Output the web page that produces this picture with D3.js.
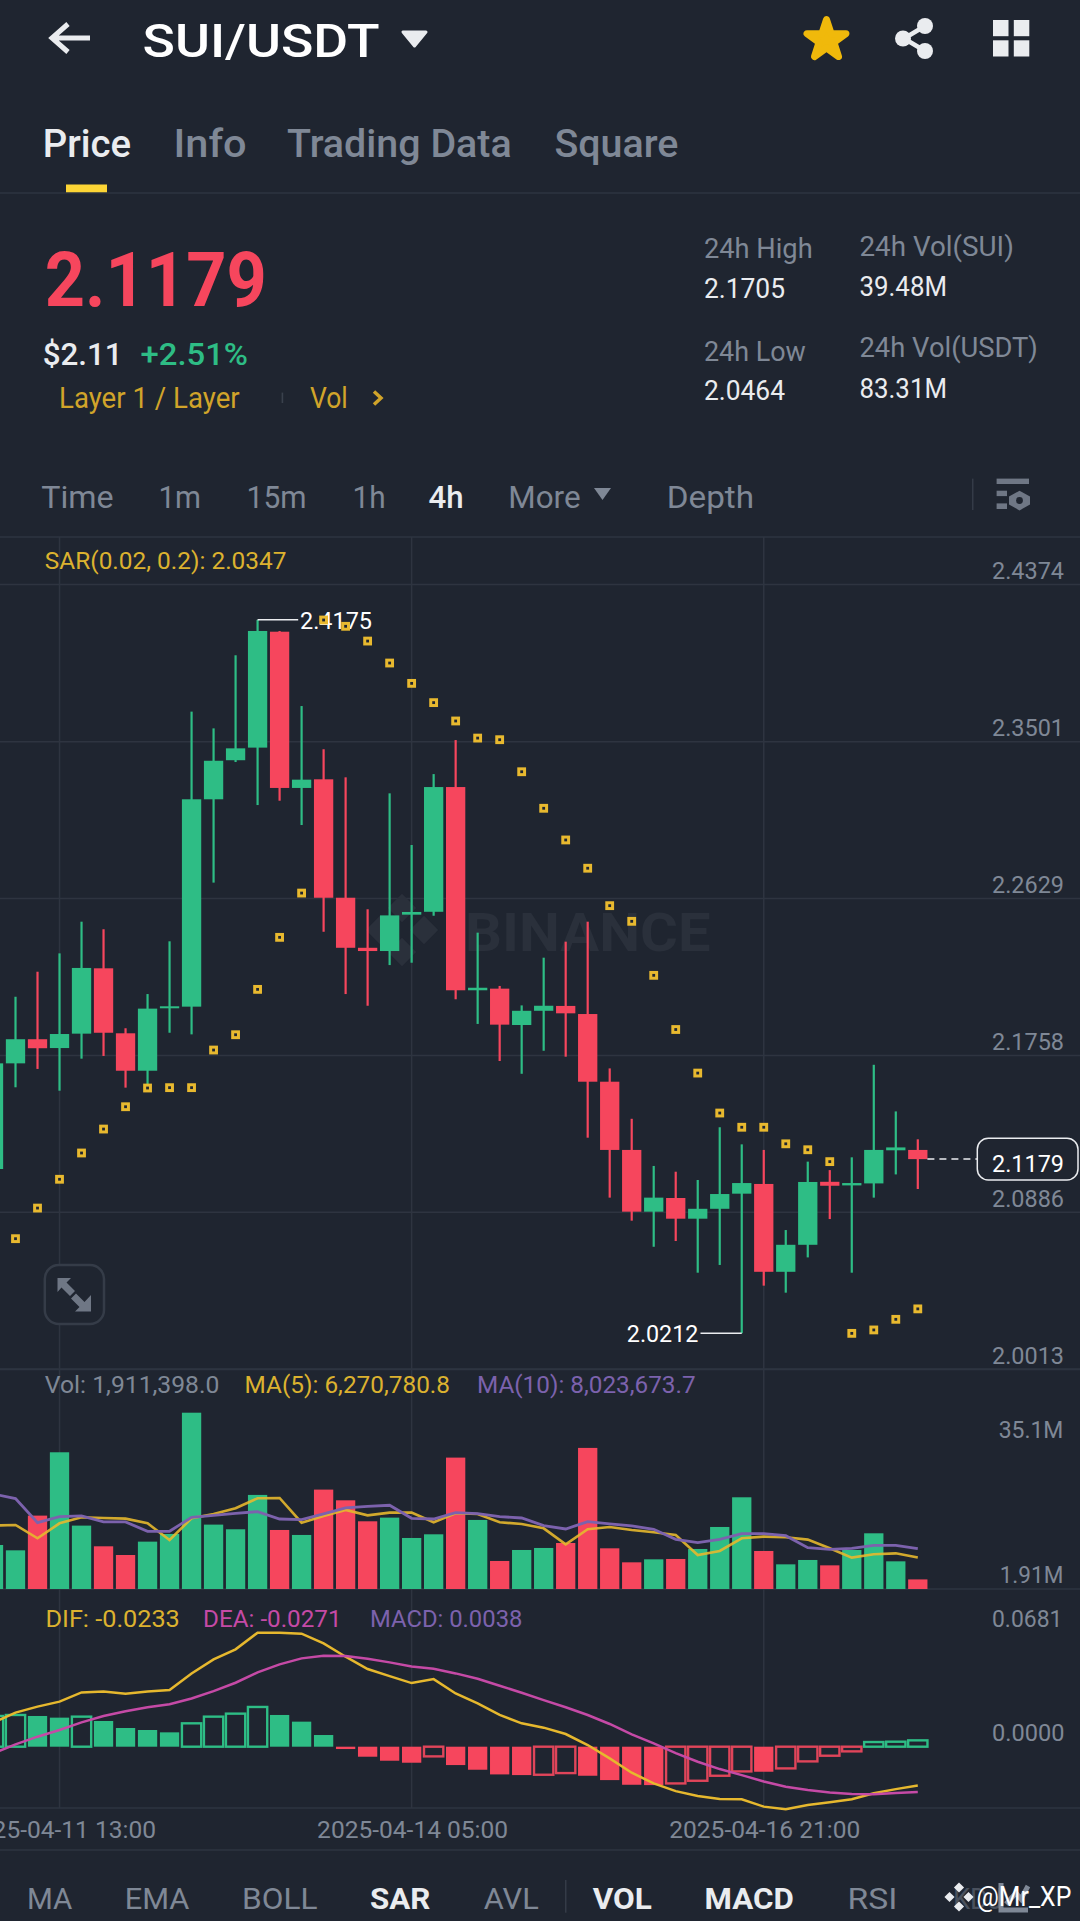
<!DOCTYPE html>
<html>
<head>
<meta charset="utf-8">
<script src="https://cdn.jsdelivr.net/npm/d3@7"></script>
<style>
  html, body { margin: 0; padding: 0; background: #1f2530; }
  svg { display: block; }
  text { font-family: Roboto, "Noto Sans", sans-serif; }
</style>
</head>
<body>
<div id="graph"></div>
<script>
// candles, 4h, oldest first
var opens = [2.1124,2.1711,2.1845,2.1796,2.1876,2.2239,2.1878,2.1670,2.2017,2.2026,2.3178,2.3395,2.3465,2.4109,2.3241,2.3289,2.2631,2.2353,2.2335,2.2537,2.2553,2.3246,2.2117,2.2126,2.1924,2.2003,2.2030,2.1985,2.1609,2.1230,2.0887,2.0963,2.0848,2.0903,2.0987,2.1041,2.0553,2.0703,2.1053,2.1033,2.1044,2.1228,2.1230];
var closes = [2.1711,2.1845,2.1795,2.1874,2.2241,2.1881,2.1670,2.2015,2.2028,2.3178,2.3392,2.3461,2.4113,2.3241,2.3287,2.2631,2.2353,2.2335,2.2533,2.2552,2.3246,2.2117,2.2131,2.1926,2.2003,2.2031,2.1989,2.1609,2.1230,2.0887,2.0965,2.0848,2.0903,2.0985,2.1046,2.0553,2.0703,2.1052,2.1031,2.1046,2.1230,2.1244,2.1179];
var highs = [2.1780,2.2081,2.2220,2.2322,2.2498,2.2456,2.1906,2.2096,2.2389,2.3665,2.3572,2.3978,2.4175,2.4113,2.3696,2.3456,2.3300,2.2567,2.3211,2.2924,2.3318,2.3507,2.2437,2.2141,2.2033,2.2298,2.2387,2.2498,2.1683,2.1403,2.1141,2.1109,2.1063,2.1356,2.1261,2.1230,2.0785,2.1165,2.1118,2.1189,2.1703,2.1444,2.1289];
var lows = [2.1050,2.1578,2.1680,2.1559,2.1737,2.1752,2.1576,2.1596,2.1881,2.1872,2.2715,2.3385,2.3146,2.3170,2.3035,2.2442,2.2096,2.2031,2.2257,2.2270,2.2531,2.2067,2.1930,2.1724,2.1653,2.1781,2.1748,2.1298,2.0965,2.0837,2.0692,2.0724,2.0548,2.0591,2.0212,2.0476,2.0437,2.0633,2.0846,2.0548,2.0965,2.1094,2.1013];
var sar = [null,2.0737,2.0907,2.1067,2.1213,2.1346,2.1470,2.1574,2.1576,2.1576,2.1785,2.1870,2.2122,2.2411,2.2657,2.4174,2.4139,2.4057,2.3935,2.3822,2.3715,2.3613,2.3518,2.3509,2.3331,2.3128,2.2952,2.2795,2.2587,2.2500,2.2200,2.1899,2.1657,2.1435,2.1356,2.1356,2.1264,2.1231,2.1165,2.0211,2.0230,2.0289,2.0347];

// volume in millions
var volumes = [8.76,7.70,14.61,27.22,12.62,8.50,6.77,9.43,10.96,35.1,12.82,11.89,18.73,11.75,10.76,19.79,17.66,13.48,14.21,10.16,10.89,26.16,13.75,5.58,7.77,8.17,9.16,28.09,8.10,5.31,5.91,5.98,7.97,12.35,18.26,7.57,4.91,5.78,4.71,7.77,11.09,5.51,1.91];
var ma5 = [12.62,12.75,10.09,13.08,14.28,14.14,14.01,13.08,9.76,14.08,14.94,16.07,18.06,18.13,13.21,14.54,15.74,14.67,15.21,15.21,13.28,15.07,14.94,13.28,12.95,12.08,8.90,11.89,12.35,11.75,11.29,10.76,6.77,7.57,10.09,10.42,10.29,9.83,8.10,6.24,6.91,7.10,6.27];
var ma10 = [18.92,17.99,13.21,14.41,14.54,13.35,13.35,11.49,11.49,14.28,14.67,15.07,15.41,13.94,13.81,14.94,16.14,16.47,16.67,14.08,13.94,15.21,15.01,14.41,14.14,12.62,11.95,13.41,12.95,12.55,11.89,9.89,9.23,9.89,11.02,11.02,10.62,8.23,7.90,8.10,8.70,8.70,8.03];

// macd pane
var dif = [0.0144,0.0204,0.0240,0.0270,0.0325,0.0331,0.0317,0.0331,0.0339,0.0439,0.0523,0.0583,0.0683,0.0683,0.0677,0.0619,0.0539,0.0465,0.0423,0.0381,0.0405,0.0319,0.0260,0.0190,0.0140,0.0114,0.0076,0.0010,-0.0070,-0.0156,-0.0220,-0.0266,-0.0295,-0.0313,-0.0315,-0.0359,-0.0375,-0.0349,-0.0333,-0.0315,-0.0279,-0.0254,-0.0233];
var dea = [-0.0040,0.0014,0.0060,0.0100,0.0146,0.0184,0.0212,0.0236,0.0254,0.0289,0.0333,0.0383,0.0445,0.0493,0.0529,0.0545,0.0543,0.0527,0.0505,0.0481,0.0467,0.0439,0.0407,0.0365,0.0323,0.0279,0.0236,0.0190,0.0136,0.0074,0.0020,-0.0038,-0.0090,-0.0134,-0.0170,-0.0208,-0.0240,-0.0260,-0.0275,-0.0283,-0.0285,-0.0277,-0.0271];
var macd = [0.0184,0.0190,0.0184,0.0174,0.0180,0.0154,0.0112,0.0100,0.0086,0.0140,0.0180,0.0198,0.0238,0.0190,0.0150,0.0070,-0.0014,-0.0060,-0.0084,-0.0096,-0.0058,-0.0110,-0.0138,-0.0166,-0.0170,-0.0168,-0.0158,-0.0174,-0.0200,-0.0228,-0.0230,-0.0220,-0.0204,-0.0174,-0.0148,-0.0150,-0.0130,-0.0088,-0.0054,-0.0028,0.0028,0.0030,0.0038];

var priceTicks = [2.4374, 2.3501, 2.2629, 2.1758, 2.0886, 2.0013];
var dateTicks = [3, 19, 35];
var dateLabels = ["2025-04-11 13:00", "2025-04-14 05:00", "2025-04-16 21:00"];

var width = 1080, height = 1921;
var bg = "#1f2530", grid = "#2e3440";
var green = "#2ebd85", red = "#f6465d", gold = "#dcb22f", purple = "#7c62ad", pink = "#c54aa6";
var grey = "#7f8896", soft = "#eaecef";
var barWidth = 19.3;

var svg = d3.select("#graph").append("svg")
  .attr("width", width)
  .attr("height", height);

var x = d3.scaleLinear().domain([0, 42]).range([-6.5, 917.8]);
var y = d3.scaleLinear().domain([2.0013, 2.4374]).range([1369, 584]);
var yVol = d3.scaleLinear().domain([0, 35.1]).range([1589, 1412.7]);
var yMacd = d3.scaleLinear().domain([0, 0.0681]).range([1746.7, 1633]);
var idx = d3.range(opens.length);

// x, baseline, string, size, colour, weight, fitted width, anchor
function label(px, py, str, size, color, weight, fit, anchor) {
  var t = svg.append("text")
    .attr("x", px).attr("y", py)
    .attr("font-size", size)
    .attr("fill", color)
    .attr("font-weight", weight || 400)
    .attr("text-anchor", anchor || "start")
    .text(str);
  if (fit) t.attr("textLength", fit).attr("lengthAdjust", "spacingAndGlyphs");
  return t;
}

function hline(py, x0, x1, color) {
  svg.append("line").attr("x1", x0 || 0).attr("x2", x1 || width).attr("y1", py).attr("y2", py)
    .attr("stroke", color || grid).attr("stroke-width", 1.5);
}

// ---- header
svg.append("path").attr("d", "M90 38H54M68 24L52 38L68 52")
  .attr("fill", "none").attr("stroke", soft).attr("stroke-width", 5);
label(142.6, 56.8, "SUI/USDT", 46, "#ffffff", 500, 237);
svg.append("path").attr("d", "M403 32H426L414.5 46Z").attr("fill", soft)
  .attr("stroke", soft).attr("stroke-width", 3).attr("stroke-linejoin", "round");
svg.append("path").attr("transform", "translate(826.5,40)")
  .attr("d", d3.symbol().type(d3.symbolStar).size(470)())
  .attr("fill", "#f0b90b").attr("stroke", "#f0b90b").attr("stroke-width", 7).attr("stroke-linejoin", "round");
svg.append("path").attr("d", "M925 26L904 38.5L925 51").attr("fill", "none").attr("stroke", soft).attr("stroke-width", 4.5);
[[925, 26], [903, 38.5], [925, 51]].forEach(function(c) {
  svg.append("circle").attr("cx", c[0]).attr("cy", c[1]).attr("r", 8).attr("fill", soft);
});
[[993, 20], [1013.8, 20], [993, 40.3], [1013.8, 40.3]].forEach(function(c) {
  svg.append("rect").attr("x", c[0]).attr("y", c[1]).attr("width", 15.5).attr("height", 16.2).attr("fill", soft);
});

label(42.7, 156.7, "Price", 38, soft, 500, 88.3);
label(173.6, 156.7, "Info", 38, grey, 500, 73);
label(287, 156.7, "Trading Data", 38, grey, 500, 224.7);
label(554.4, 156.7, "Square", 38, grey, 500, 124);
svg.append("rect").attr("x", 66).attr("y", 184.5).attr("width", 41).attr("height", 8.5).attr("fill", "#fcd535");
hline(193);

label(44.8, 305.8, "2.1179", 76, red, 700, 222);
label(42.7, 365, "$2.11", 32, soft, 500, 80);
label(140.5, 365, "+2.51%", 32, green, 500, 107.5);
label(59, 408, "Layer 1 / Layer", 29, "#d1a42a", 400, 180.7);
svg.append("rect").attr("x", 281.6).attr("y", 392.6).attr("width", 1.6).attr("height", 10.4).attr("fill", "#3a414d");
label(310, 408, "Vol", 29, "#d1a42a", 400, 37.8);
svg.append("path").attr("d", "M374 391.5L381 398L374 404.5").attr("fill", "none").attr("stroke", "#d1a42a").attr("stroke-width", 3.5);

label(703.9, 258.3, "24h High", 28, grey, 400, 108.8);
label(703.9, 297.9, "2.1705", 28, soft, 400, 81.1);
label(703.9, 360.5, "24h Low", 28, grey, 400, 101.9);
label(703.9, 400, "2.0464", 28, soft, 400, 81.1);
label(859.5, 255.5, "24h Vol(SUI)", 28, grey, 400, 154.3);
label(859.5, 295.5, "39.48M", 28, soft, 400, 87.5);
label(859.5, 357.4, "24h Vol(USDT)", 28, grey, 400, 178.4);
label(859.5, 397.7, "83.31M", 28, soft, 400, 87.5);

label(41.3, 507.9, "Time", 32, grey, 400, 72.3);
label(158.4, 507.9, "1m", 32, grey, 400, 42.6);
label(246.6, 507.9, "15m", 32, grey, 400, 59.9);
label(352.6, 507.9, "1h", 32, grey, 400, 33.1);
label(428.4, 507.9, "4h", 32, soft, 500, 35.1);
label(508.3, 507.9, "More", 32, grey, 400, 72.3);
svg.append("path").attr("d", "M594 488H611L602.5 500Z").attr("fill", grey);
label(666.7, 507.9, "Depth", 32, grey, 400, 87.3);
svg.append("rect").attr("x", 972).attr("y", 478.6).attr("width", 1.5).attr("height", 31.4).attr("fill", "#343b47");
svg.append("rect").attr("x", 996.6).attr("y", 478.6).attr("width", 32.4).attr("height", 5.4).attr("fill", "#6f7785");
svg.append("rect").attr("x", 996.6).attr("y", 490.7).attr("width", 10.4).attr("height", 5.4).attr("fill", "#6f7785");
svg.append("rect").attr("x", 996.6).attr("y", 503.4).attr("width", 10.4).attr("height", 5.6).attr("fill", "#6f7785");
svg.append("path").attr("d", "M1019.5 490.7L1030 496.5V504.6L1019.5 510.4L1009 504.6V496.5Z").attr("fill", "#6f7785");
svg.append("circle").attr("cx", 1019.5).attr("cy", 500.5).attr("r", 3.4).attr("fill", bg);

// ---- pane frames and grid
hline(537);
hline(1589);
hline(1808);
hline(1850);

svg.append("g").selectAll("line").data(dateTicks).join("line")
  .attr("x1", function(d) { return x(d); }).attr("x2", function(d) { return x(d); })
  .attr("y1", 537).attr("y2", 1808)
  .attr("stroke", grid).attr("stroke-width", 1.5);

var priceAxis = svg.append("g")
  .call(d3.axisRight(y).tickValues(priceTicks).tickFormat(d3.format(".4f")).tickSize(width).tickPadding(-88));
priceAxis.select(".domain").remove();
priceAxis.selectAll("line").attr("stroke", grid).attr("stroke-width", 1.5);
priceAxis.selectAll("text")
  .attr("dy", -5.7)
  .attr("fill", grey)
  .attr("font-size", 23.5)
  .attr("font-family", "Roboto")
  .attr("textLength", 72)
  .attr("lengthAdjust", "spacingAndGlyphs");

// watermark
svg.append("g").attr("transform", "translate(402,930)").attr("fill", "#2a303b")
  .selectAll("rect").data([[0, -22], [-22, 0], [22, 0], [0, 22]]).join("rect")
  .attr("x", function(d) { return d[0] - 10; }).attr("y", function(d) { return d[1] - 10; })
  .attr("width", 20).attr("height", 20)
  .attr("transform", function(d) { return "rotate(45 " + d[0] + " " + d[1] + ")"; });
label(465, 950.7, "BINANCE", 54, "#2a303b", 700, 245.5);

label(44.8, 569.3, "SAR(0.02, 0.2): 2.0347", 23.5, gold, 400, 241.7);

// ---- candles
var candles = svg.append("g").selectAll("g").data(idx).join("g")
  .attr("fill", function(i) { return closes[i] >= opens[i] ? green : red; });
candles.append("rect")
  .attr("x", function(i) { return x(i) - 1.1; })
  .attr("y", function(i) { return y(highs[i]); })
  .attr("width", 2.2)
  .attr("height", function(i) { return y(lows[i]) - y(highs[i]); });
candles.append("rect")
  .attr("x", function(i) { return x(i) - barWidth / 2; })
  .attr("y", function(i) { return y(Math.max(opens[i], closes[i])); })
  .attr("width", barWidth)
  .attr("height", function(i) { return Math.max(2, Math.abs(y(opens[i]) - y(closes[i]))); });

// high / low callouts
function callout(i, value, x0, x1) {
  svg.append("path")
    .attr("d", "M" + x1 + " " + y(value) + "H" + x(i))
    .attr("fill", "none").attr("stroke", soft).attr("stroke-width", 1.5);
}
callout(12, d3.max(highs), 258, 298.2);
callout(34, d3.min(lows), 741.4, 700.5);
label(300, 629.3, d3.max(highs).toFixed(4), 24, "#ffffff", 400, 72);
label(626.8, 1342.3, d3.min(lows).toFixed(4), 24, "#ffffff", 400, 71.6);

// sar dots
svg.append("g").selectAll("rect").data(idx.filter(function(i) { return sar[i] != null; })).join("rect")
  .attr("x", function(i) { return x(i) - 2.9; })
  .attr("y", function(i) { return y(sar[i]) - 2.9; })
  .attr("width", 5.8).attr("height", 5.8)
  .attr("fill", bg)
  .attr("stroke", "#e8b92f").attr("stroke-width", 3);

// last price tag
svg.append("line").attr("x1", 927.4).attr("x2", 977.3)
  .attr("y1", y(closes[42])).attr("y2", y(closes[42]))
  .attr("stroke", soft).attr("stroke-width", 1.5).attr("stroke-dasharray", "7 5");
svg.append("rect").attr("x", 977.3).attr("y", 1138.3).attr("width", 100.7).attr("height", 41.7).attr("rx", 11)
  .attr("fill", bg).attr("stroke", soft).attr("stroke-width", 1.5);
label(992, 1171.7, closes[42].toFixed(4), 24, "#ffffff", 400, 72);

// expand button
svg.append("rect").attr("x", 44.8).attr("y", 1265).attr("width", 59.2).attr("height", 59).attr("rx", 14)
  .attr("fill", bg).attr("stroke", "#353c48").attr("stroke-width", 2.5);
svg.append("path").attr("d", "M57.5 1278H71L66.5 1282.5L75 1291L70 1296L61.5 1287.5L57.5 1292Z M91 1311.5H75L79.5 1307L71 1298.5L76 1293.5L84.5 1302L91 1295Z")
  .attr("fill", "#6f7785");

// ---- volume
hline(1369);
label(44.8, 1393.3, "Vol: 1,911,398.0", 23.5, grey, 400, 174.6);
label(244.5, 1393.3, "MA(5): 6,270,780.8", 23.5, gold, 400, 205.5);
label(477, 1393.3, "MA(10): 8,023,673.7", 23.5, purple, 400, 218.6);
label(998.7, 1437.7, "35.1M", 23.5, grey, 400, 64.7);
label(999.7, 1583.3, "1.91M", 23.5, grey, 400, 63.7);

svg.append("g").selectAll("rect").data(idx).join("rect")
  .attr("x", function(i) { return x(i) - barWidth / 2; })
  .attr("y", function(i) { return yVol(volumes[i]); })
  .attr("width", barWidth)
  .attr("height", function(i) { return yVol(0) - yVol(volumes[i]); })
  .attr("fill", function(i) { return closes[i] >= opens[i] ? green : red; });

var volLine = d3.line().x(function(d, i) { return x(i); }).y(function(d) { return yVol(d); });
svg.append("path").attr("d", volLine(ma5)).attr("fill", "none").attr("stroke", "#e6b82e").attr("stroke-opacity", 0.9).attr("stroke-width", 2.6);
svg.append("path").attr("d", volLine(ma10)).attr("fill", "none").attr("stroke", purple).attr("stroke-width", 2.8);

// ---- macd
label(45.5, 1627.3, "DIF: -0.0233", 23.5, gold, 400, 134.3);
label(203, 1627.3, "DEA: -0.0271", 23.5, pink, 400, 138.6);
label(370, 1627.3, "MACD: 0.0038", 23.5, purple, 400, 152.4);
label(992, 1627.3, "0.0681", 23.5, grey, 400, 70.4);
label(992, 1740.7, "0.0000", 23.5, grey, 400, 72.4);

// hollow when the histogram is rising, solid when falling
function rising(i) { return i === 0 || macd[i] > macd[i - 1]; }
svg.append("g").selectAll("rect").data(idx).join("rect")
  .attr("x", function(i) { return x(i) - barWidth / 2; })
  .attr("y", function(i) { return Math.min(yMacd(0), yMacd(macd[i])); })
  .attr("width", barWidth)
  .attr("height", function(i) { return Math.abs(yMacd(macd[i]) - yMacd(0)); })
  .attr("fill", function(i) { return rising(i) ? "none" : (macd[i] >= 0 ? green : red); })
  .attr("stroke", function(i) { return rising(i) ? (macd[i] >= 0 ? green : "#e0455a") : "none"; })
  .attr("stroke-width", 2.4);

var macdLine = d3.line().x(function(d, i) { return x(i); }).y(function(d) { return yMacd(d); });
svg.append("path").attr("d", macdLine(dif)).attr("fill", "none").attr("stroke", "#e6b82e").attr("stroke-width", 2.5);
svg.append("path").attr("d", macdLine(dea)).attr("fill", "none").attr("stroke", pink).attr("stroke-width", 2.5);

// date ticks
svg.append("g").selectAll("text").data(dateTicks).join("text")
  .attr("x", function(d) { return x(d) + 1; })
  .attr("y", 1838.3)
  .attr("text-anchor", "middle")
  .attr("font-size", 23.5)
  .attr("fill", grey)
  .attr("textLength", 191)
  .attr("lengthAdjust", "spacingAndGlyphs")
  .text(function(d, i) { return dateLabels[i]; });

// ---- indicator tabs
label(26.9, 1909.3, "MA", 30, grey, 400, 45.4);
label(124.7, 1909.3, "EMA", 30, grey, 400, 64.7);
label(242, 1909.3, "BOLL", 30, grey, 400, 75.5);
label(370, 1909.3, "SAR", 30, soft, 700, 60.4);
label(483.8, 1909.3, "AVL", 30, grey, 400, 55);
svg.append("rect").attr("x", 565).attr("y", 1880).attr("width", 1.5).attr("height", 32.7).attr("fill", "#343b47");
label(592.7, 1909.3, "VOL", 30, soft, 700, 59.2);
label(704.6, 1909.3, "MACD", 30, soft, 700, 89.2);
label(847.5, 1909.3, "RSI", 30, grey, 400, 49.9);
label(953, 1909.3, "KDJ", 30, "#4a515d", 400, 50);

// kline icon and watermark credit
svg.append("path").attr("d", "M1001 1883V1910H1028M1006 1904L1016 1893L1021 1899L1028 1886")
  .attr("fill", "none").attr("stroke", "#7f8896").attr("stroke-width", 5);
svg.append("g").attr("transform", "translate(959,1897)").attr("fill", soft)
  .selectAll("rect").data([[0, -9.5], [-9.5, 0], [9.5, 0], [0, 9.5]]).join("rect")
  .attr("x", function(d) { return d[0] - 3.6; }).attr("y", function(d) { return d[1] - 3.6; })
  .attr("width", 7.2).attr("height", 7.2)
  .attr("transform", function(d) { return "rotate(45 " + d[0] + " " + d[1] + ")"; });
label(976.6, 1906, "@Mr_XP", 27, "#ffffff", 400, 94.7);
</script>
</body>
</html>
